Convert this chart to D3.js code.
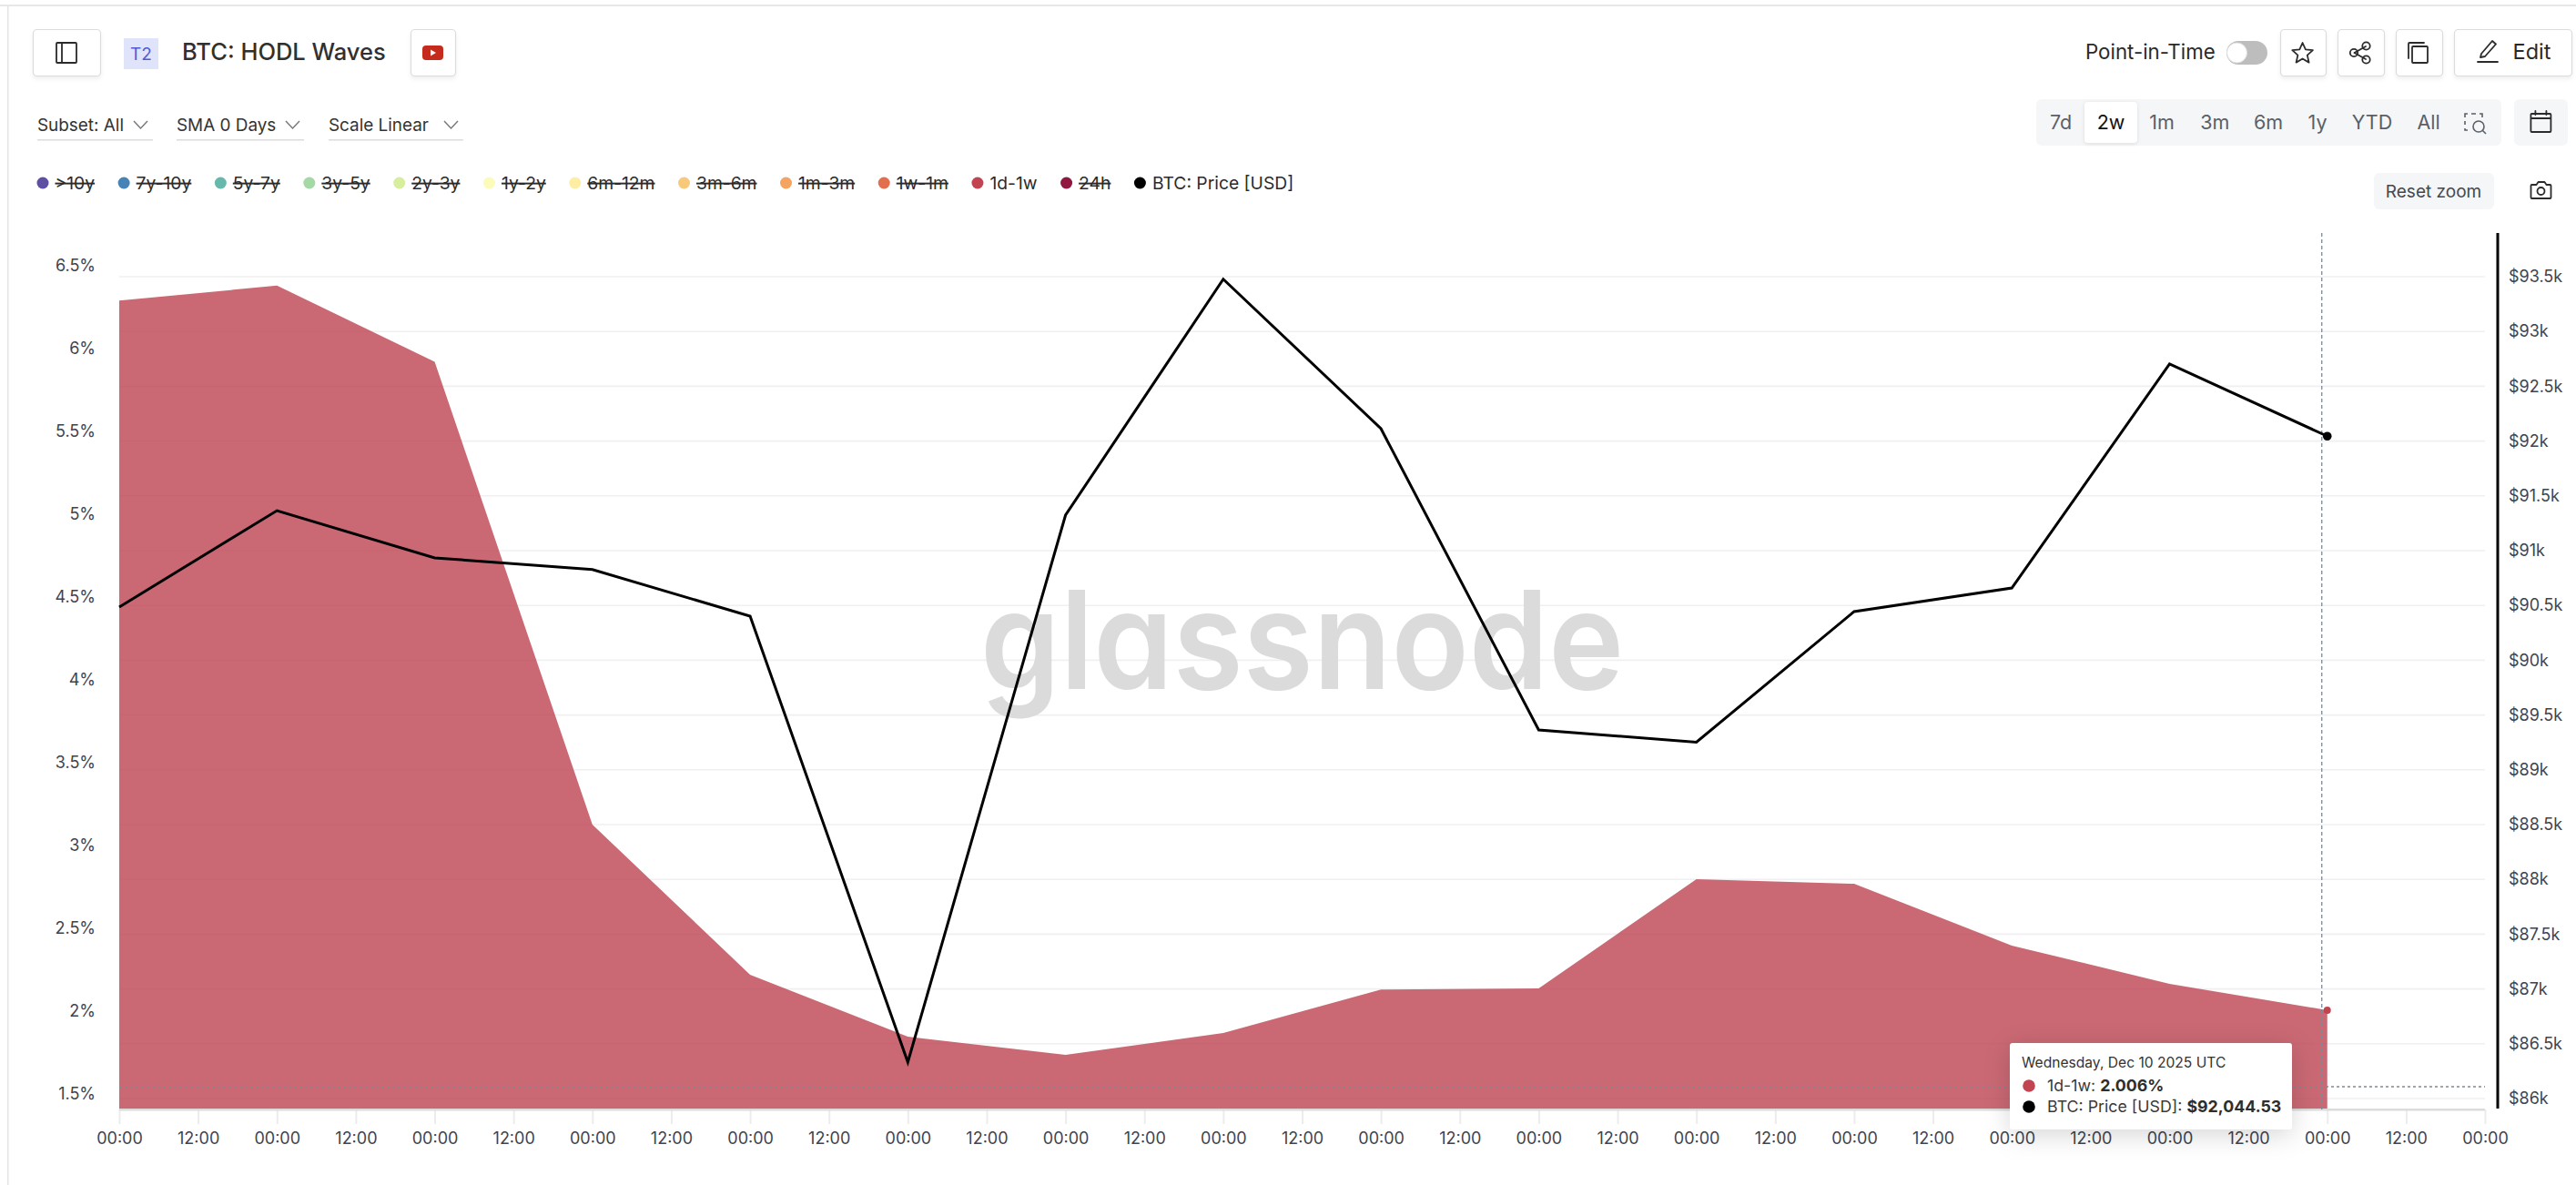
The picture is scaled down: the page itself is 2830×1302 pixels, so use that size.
<!DOCTYPE html>
<html><head><meta charset="utf-8">
<script src="https://cdn.jsdelivr.net/npm/d3@7/dist/d3.min.js"></script>
<style>
html,body{margin:0;padding:0;background:#fff;overflow:hidden}
svg{display:block;font-family:Inter,"Noto Sans",sans-serif}
.axis path.domain{display:none}
.axis text{font-family:Inter,sans-serif;font-size:18px;fill:#40444f}
.btn{fill:#fff;stroke:#dcdcdc;stroke-width:1.2;filter:drop-shadow(0 3px 2px rgba(0,0,0,.06))}
.ic{fill:none;stroke:#2b2b2b;stroke-width:1.8;stroke-linecap:round;stroke-linejoin:round}
</style></head><body>
<svg id="c" width="2830" height="1302"></svg>
<script>
// ---------- data ----------
const dates = ["2025-11-26","2025-11-27","2025-11-28","2025-11-29","2025-11-30","2025-12-01","2025-12-02","2025-12-03","2025-12-04","2025-12-05","2025-12-06","2025-12-07","2025-12-08","2025-12-09","2025-12-10"];
const supply1d1w = [6.29,6.38,5.92,3.126,2.22,1.846,1.736,1.868,2.13,2.137,2.797,2.769,2.396,2.165,2.006];
const btcPrice = [90485,91365,90934,90828,90402,86332,91324,93477,92113,89364,89252,90444,90659,92703,92044.53];
const leftTicks = [1.5,2,2.5,3,3.5,4,4.5,5,5.5,6,6.5];
const rightTicks = [86000,86500,87000,87500,88000,88500,89000,89500,90000,90500,91000,91500,92000,92500,93000,93500];
const legendNames = [">10y","7y-10y","5y-7y","3y-5y","2y-3y","1y-2y","6m-12m","3m-6m","1m-3m","1w-1m","1d-1w","24h","BTC: Price [USD]"];
const legendColors = ["#5e4fa2","#4683b7","#66b8ac","#a4d8a4","#d7ee9c","#fbfcb9","#fdeea3","#f8c97a","#f4a460","#e2704f","#c24451","#8f1740","#000000"];
const legendActive = ["1d-1w","BTC: Price [USD]"];
const rangeLabels = ["7d","2w","1m","3m","6m","1y","YTD","All"];
const filterLabels = ["Subset: All","SMA 0 Days","Scale Linear"];

// ---------- layout ----------
const svg = d3.select("#c");
const L = 131, R = 2730, B = 1219, T = 256;
const parse = d3.utcParse("%Y-%m-%d");
const x = d3.scaleUtc().domain([parse("2025-11-26"), parse("2025-12-11")]).range([L, R]);
const yL = d3.scaleLinear().domain([1.5,6.5]).range([1202,292]);
const yR = d3.scaleLinear().domain([86000,93500]).range([1207,304]);
const rows = dates.map((d,i)=>({t:parse(d),s:supply1d1w[i],p:btcPrice[i]}));
const last = rows[rows.length-1];

// page frame
svg.append("rect").attr("x",0).attr("y",5).attr("width",2830).attr("height",2).attr("fill","#e8e8e8");
svg.append("rect").attr("x",8).attr("y",6).attr("width",1.5).attr("height",1296).attr("fill","#e4e4e4");

function T_(x0,y0,s,size,opt={}){
  return svg.append("text").attr("x",x0).attr("y",y0).attr("dy","0.36em").text(s)
    .attr("font-size",size).attr("fill",opt.fill||"#2e2e2e")
    .attr("font-weight",opt.w||400).attr("text-anchor",opt.a||"start");
}
function box(x0,y0,x1,y1){
  return svg.append("rect").attr("class","btn").attr("x",x0+.5).attr("y",y0+.5)
    .attr("width",x1-x0).attr("height",y1-y0).attr("rx",4);
}
function flat(x0,y0,x1,y1,fill,rx){
  return svg.append("rect").attr("x",x0).attr("y",y0).attr("width",x1-x0).attr("height",y1-y0).attr("fill",fill).attr("rx",rx);
}
function icon(d,tx,ty){ return svg.append("path").attr("class","ic").attr("d",d).attr("transform",`translate(${tx},${ty})`); }

// header left
box(36,32,110,83);
icon("M-10,-11H10a1,1 0 0 1 1,1V10a1,1 0 0 1 -1,1H-10a1,1 0 0 1 -1,-1V-10a1,1 0 0 1 1,-1ZM-5,-11V11",73,58);
flat(136,42,174,76,"#dfe4fa",0);
T_(155,59,"T2",19,{fill:"#4f5bd5",a:"middle"});
T_(200,57,"BTC: HODL Waves",25.5,{w:500,fill:"#303030"});
box(451,32,500,83);
flat(464,50,487,66,"#c42b1c",4);
svg.append("path").attr("d","M473,54.5L479,58L473,61.5Z").attr("fill","#fff");

// header right
T_(2291,57,"Point-in-Time",22.3,{fill:"#2a2a2a"});
flat(2446,45,2491,71,"#bdbdbd",13);
svg.append("circle").attr("cx",2457.5).attr("cy",58).attr("r",11).attr("fill","#fff").attr("stroke","#e0e0e0");
box(2505,32,2555,83);
icon("M0,-11L3.3,-3.6L11.3,-2.8L5.2,2.6L7,10.6L0,6.5L-7,10.6L-5.2,2.6L-11.3,-2.8L-3.3,-3.6Z",2529.6,58);
box(2568,32,2619,83);
icon("M-6.5,0L6,-7M-6.5,0L6,7",2593,58);
svg.selectAll("c.s").data([[2586,58],[2599.5,50.5],[2599.5,65.5]]).enter().append("circle").attr("class","ic")
  .attr("cx",d=>d[0]).attr("cy",d=>d[1]).attr("r",4.2).attr("fill","#fff");
box(2632,32,2683,83);
icon("M-6,-7H9a1,1 0 0 1 1,1V10a1,1 0 0 1 -1,1H-6a1,1 0 0 1 -1,-1V-6a1,1 0 0 1 1,-1ZM-11,6V-10a1,1 0 0 1 1,-1H6",2657,58);
box(2696,32,2825,83);
icon("M-7,5L5,-9L9,-5.5L-3,8L-8,9ZM-11,14H11",2733,54);
T_(2760.5,57,"Edit",23.5,{fill:"#2a2a2a"});

// range selector
flat(2237,109,2748,160,"#f5f6f8",6);
svg.append("rect").attr("x",2290).attr("y",112).attr("width",58).attr("height",45).attr("rx",4).attr("fill","#fff")
  .style("filter","drop-shadow(0 1px 2px rgba(0,0,0,.10))");
const rangeCx = [2264,2319,2375,2433.4,2492,2546,2606,2668];
svg.selectAll("text.r").data(rangeLabels).enter().append("text").attr("class","r")
  .attr("x",(d,i)=>rangeCx[i]).attr("y",134).attr("dy","0.36em").attr("text-anchor","middle")
  .attr("font-size",21.5).attr("fill",d=>d==="2w"?"#111":"#5a5f68").text(d=>d);
svg.append("path").attr("d","M-10,-5V-9H-7M-3,-9H2M6,-9H9V-5M-10,-1V3M-10,7V9H-7").attr("transform","translate(2718,134)")
  .attr("fill","none").attr("stroke","#5a5f68").attr("stroke-width",1.6);
svg.append("circle").attr("cx",2723).attr("cy",139).attr("r",6).attr("fill","none").attr("stroke","#5a5f68").attr("stroke-width",1.6);
svg.append("path").attr("d","M2727.5,143.5L2731,147").attr("stroke","#5a5f68").attr("stroke-width",1.6);
flat(2762,109,2821,160,"#f5f6f8",6);
icon("M-10,-9H10a1,1 0 0 1 1,1V10a1,1 0 0 1 -1,1H-10a1,1 0 0 1 -1,-1V-8a1,1 0 0 1 1,-1ZM-11,-4H11M-6,-12V-8M6,-12V-8",2791.4,134);
flat(2608,190,2740,230,"#f5f6f8",6);
T_(2673.5,210,"Reset zoom",19,{fill:"#45484f",a:"middle"});
icon("M-10,-6H-5L-3,-9H4L6,-6H10a1,1 0 0 1 1,1V8a1,1 0 0 1 -1,1H-10a1,1 0 0 1 -1,-1V-5a1,1 0 0 1 1,-1Z",2791.5,209);
svg.append("circle").attr("class","ic").attr("cx",2791.5).attr("cy",210).attr("r",4);

// filters
const filterX = [41,194,361], filterChev = [154.5,321.5,495.5], filterEnd = [168,334,509];
filterLabels.forEach((s,i)=>{
  T_(filterX[i],137,s,18.9,{fill:"#333"});
  svg.append("path").attr("d",`M${filterChev[i]-7.5},133L${filterChev[i]},141L${filterChev[i]+7.5},133`).attr("fill","none").attr("stroke","#777").attr("stroke-width",1.4);
  flat(filterX[i],153,filterEnd[i],154.5,"#dcdcdc",0);
});

// legend (flows from measured text widths)
let lx = 47;
legendNames.forEach((n,i)=>{
  svg.append("circle").attr("cx",lx).attr("cy",201).attr("r",6.5).attr("fill",legendColors[i]);
  const t = T_(lx+13.5,201,n,19.3,{fill:"#2b2b2b"});
  if(!legendActive.includes(n)) t.attr("text-decoration","line-through");
  lx += 13.5 + t.node().getComputedTextLength() + 32;
});

// grid
svg.append("g").selectAll("line").data(rightTicks).enter().append("line")
  .attr("x1",L).attr("x2",R).attr("y1",d=>yR(d)).attr("y2",d=>yR(d))
  .attr("stroke","#f0f0f2").attr("stroke-width",1.6);

// watermark
svg.append("text").attr("x",1077).attr("y",757).text("glassnode")
  .attr("font-family","Inter").attr("font-size",150).attr("font-weight",600)
  .attr("textLength",707).attr("lengthAdjust","spacingAndGlyphs")
  .style("font-feature-settings","'cv11' 1")
  .attr("fill","#d9d9d9").attr("fill-opacity",.95);

// x axis
const xAxis = d3.axisBottom(x).ticks(d3.utcHour.every(12)).tickFormat(d3.utcFormat("%H:%M")).tickSize(16).tickPadding(9);
const gx = svg.append("g").attr("class","axis").attr("transform",`translate(0,${B})`).call(xAxis);
gx.selectAll("line").attr("stroke","#ececec").attr("stroke-width",2);

// area + line
const area = d3.area().x(d=>x(d.t)).y0(B).y1(d=>yL(d.s));
svg.append("path").datum(rows).attr("d",area).attr("fill","#bd4451").attr("fill-opacity",.8);
svg.append("rect").attr("x",L).attr("y",B-1).attr("width",R-L).attr("height",2.5).attr("fill","#dcdcdc");

// left & right axes
svg.append("g").attr("class","axis").attr("transform",`translate(105,0)`)
  .call(d3.axisLeft(yL).tickValues(leftTicks).tickFormat(d=>d+"%").tickSize(0).tickPadding(0));
svg.append("g").attr("class","axis").attr("transform",`translate(2744,0)`)
  .call(d3.axisRight(yR).tickValues(rightTicks).tickFormat(d=>"$"+d/1000+"k").tickSize(0).tickPadding(12));
svg.append("line").attr("x1",2744).attr("x2",2744).attr("y1",T).attr("y2",B-1).attr("stroke","#000").attr("stroke-width",3);

// crosshair
const crossX = x(last.t)-6;
svg.append("line").attr("x1",crossX).attr("x2",crossX).attr("y1",T).attr("y2",B).attr("stroke","#7b8a99").attr("stroke-width",1.3).attr("stroke-dasharray","4 3");
svg.append("line").attr("x1",L).attr("x2",R).attr("y1",1194).attr("y2",1194).attr("stroke","#7b8a99").attr("stroke-width",1.4).attr("stroke-dasharray","3 3");

// price line
const line = d3.line().x(d=>x(d.t)).y(d=>yR(d.p));
svg.append("path").datum(rows).attr("d",line).attr("fill","none").attr("stroke","#000").attr("stroke-width",3).attr("stroke-linejoin","miter");
svg.append("circle").attr("cx",x(last.t)).attr("cy",yL(last.s)).attr("r",4).attr("fill","#c24451");
svg.append("circle").attr("cx",x(last.t)).attr("cy",yR(last.p)).attr("r",4.8).attr("fill","#000");

// tooltip
svg.append("rect").attr("x",2208).attr("y",1146).attr("width",310).attr("height",95).attr("rx",3).attr("fill","#fff")
  .style("filter","drop-shadow(0 6px 14px rgba(0,0,0,.16))");
T_(2221,1167,"Wednesday, Dec 10 2025 UTC",15.6,{fill:"#333"});
svg.append("circle").attr("cx",2229).attr("cy",1193).attr("r",6.8).attr("fill","#c24451");
const t1 = T_(2249,1193,"1d-1w: ",17.8,{fill:"#3a3a3a"});
t1.append("tspan").attr("font-weight",700).attr("fill","#2e2e2e").text(last.s.toFixed(3)+"%");
svg.append("circle").attr("cx",2229).attr("cy",1216).attr("r",6.8).attr("fill","#000");
const t2 = T_(2249,1216,"BTC: Price [USD]: ",17.8,{fill:"#3a3a3a"});
t2.append("tspan").attr("font-weight",700).attr("fill","#2e2e2e").text("$"+d3.format(",.2f")(last.p));
</script>
</body></html>
